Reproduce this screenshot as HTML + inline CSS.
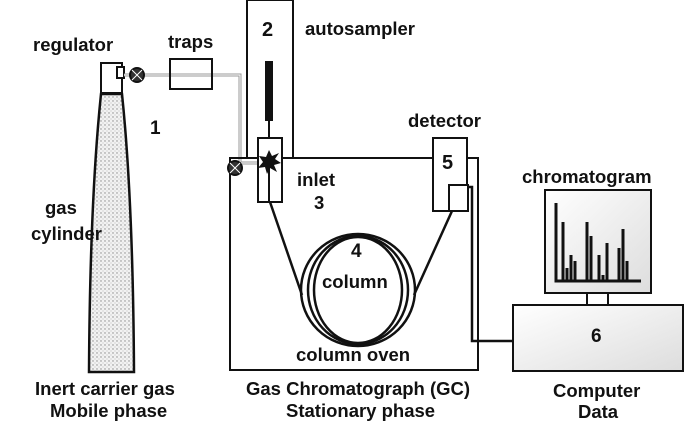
<!DOCTYPE html>
<html><head><meta charset="utf-8"><style>
body{margin:0;background:#fff;}
svg{display:block;font-family:"Liberation Sans",sans-serif;font-weight:bold;}
</style></head><body>
<svg width="685" height="428" viewBox="0 0 685 428">
<defs>
<pattern id="dots" width="4" height="4" patternUnits="userSpaceOnUse">
<rect width="4" height="4" fill="#f2f2f2"/><circle cx="1" cy="1" r="0.7" fill="#888"/><circle cx="3" cy="3" r="0.5" fill="#aaa"/>
</pattern>
<linearGradient id="g1" x1="0" y1="0" x2="1" y2="1"><stop offset="0" stop-color="#fff"/><stop offset="1" stop-color="#ddd"/></linearGradient>
</defs>
<g stroke="#111" fill="none" stroke-width="2">
<path d="M101,94 Q90,200 89,372 L134,372 Q133,200 122,94 Z" fill="url(#dots)" stroke-width="2.5"/>
<rect x="101" y="63" width="21" height="30" fill="#fff"/>
<rect x="117" y="67" width="7" height="11" fill="#fff"/>
<path d="M124,75 L240,75 L240,163 L262,163" stroke="#999" stroke-width="3"/>
<path d="M124,75 L240,75 L240,163 L262,163" stroke="#fff" stroke-width="1"/>
<rect x="170" y="59" width="42" height="30" fill="none"/>
<circle cx="137" cy="75" r="7" fill="#333"/>
<path d="M132,70 L142,80 M142,70 L132,80" stroke="#fff" stroke-width="1"/>
<rect x="247" y="0" width="46" height="158" fill="#fff"/>
<rect x="266" y="62" width="6" height="58" fill="#111"/>
<line x1="269" y1="120" x2="269" y2="160"/>
<path d="M230,370 L230,158 L478,158 L478,370 Z"/>
<circle cx="235" cy="168" r="7" fill="#333"/>
<path d="M230,163 L240,173 M240,163 L230,173" stroke="#fff" stroke-width="1"/>
<rect x="258" y="138" width="24" height="64" fill="#fff"/>
<path d="M269,150 L272,156 L279,153 L275,159 L281,163 L274,165 L277,172 L270,168 L267,174 L265,167 L258,168 L263,162 L259,156 L266,157 Z" fill="#111" stroke="none"/>
<line x1="269" y1="165" x2="269" y2="202"/>
<path d="M270,202 L302,295" stroke-width="2.5"/>
<path d="M452,211 L414,295" stroke-width="2.5"/>
<ellipse cx="358" cy="290" rx="57" ry="56" stroke-width="2.5"/>
<ellipse cx="358" cy="290" rx="50" ry="54" stroke-width="2.5"/>
<ellipse cx="358" cy="290" rx="44" ry="53" stroke-width="2.5"/>
<rect x="433" y="138" width="34" height="73" fill="#fff"/>
<rect x="449" y="185" width="19" height="26" fill="#fff"/>
<path d="M468,187 L472,187 L472,341 L513,341" stroke-width="2.5"/>
<rect x="545" y="190" width="106" height="103" fill="url(#g1)"/>
<rect x="587" y="293" width="21" height="12" fill="#fff"/>
<rect x="513" y="305" width="170" height="66" fill="url(#g1)"/>
<g stroke-width="3">
<path d="M556,203 L556,281 L641,281"/>
<path d="M563,222 V281 M567,268 V281 M571,255 V281 M575,261 V281 M587,222 V281 M591,236 V281 M599,255 V281 M603,275 V281 M607,243 V281 M619,248 V281 M623,229 V281 M627,261 V281"/>
</g>
</g>
<g fill="#111" font-size="18.5">
<text x="33" y="51">regulator</text>
<text x="168" y="48">traps</text>
<text x="262" y="36" font-size="20">2</text>
<text x="305" y="35">autosampler</text>
<text x="150" y="134" font-size="19">1</text>
<text x="408" y="127">detector</text>
<text x="442" y="169" font-size="20">5</text>
<text x="297" y="186">inlet</text>
<text x="314" y="209">3</text>
<text x="522" y="183">chromatogram</text>
<text x="45" y="214">gas</text>
<text x="31" y="240">cylinder</text>
<text x="351" y="257" font-size="19">4</text>
<text x="322" y="288">column</text>
<text x="296" y="361">column oven</text>
<text x="591" y="342" font-size="19">6</text>
<text x="35" y="395">Inert carrier gas</text>
<text x="50" y="417">Mobile phase</text>
<text x="246" y="395">Gas Chromatograph (GC)</text>
<text x="286" y="417">Stationary phase</text>
<text x="553" y="397">Computer</text>
<text x="578" y="418">Data</text>
</g>
</svg>
</body></html>
